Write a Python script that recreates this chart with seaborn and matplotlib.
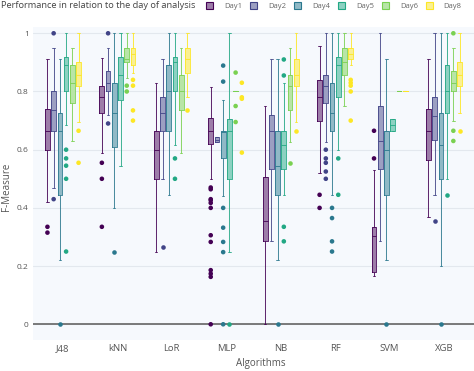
import numpy as np
import pandas as pd
import seaborn as sns
import matplotlib.pyplot as plt
from matplotlib.colors import to_rgba
from matplotlib.patches import Patch

# categories
algorithms = ["J48", "kNN", "LoR", "MLP", "NB", "RF", "SVM", "XGB"]
days = ["Day1", "Day2", "Day4", "Day5", "Day6", "Day8"]

# box summaries: [whisker low, q1, median, q3, whisker high]
day1_box = [[0.42, 0.60, 0.665, 0.74, 0.91], [0.59, 0.725, 0.78, 0.82, 0.915],
            [0.25, 0.50, 0.60, 0.665, 0.83], [0.50, 0.62, 0.665, 0.71, 0.815],
            [0.0, 0.285, 0.355, 0.505, 0.75], [0.52, 0.70, 0.78, 0.84, 0.955],
            [0.165, 0.18, 0.305, 0.335, 0.53], [0.37, 0.565, 0.665, 0.74, 0.91]]
day2_box = [[0.47, 0.665, 0.735, 0.80, 0.95], [0.72, 0.80, 0.83, 0.87, 0.95],
            [0.50, 0.665, 0.725, 0.78, 0.91], [0.625, 0.625, 0.635, 0.645, 0.645],
            [0.285, 0.535, 0.665, 0.72, 0.91], [0.625, 0.76, 0.82, 0.855, 1.0],
            [0.285, 0.535, 0.63, 0.75, 1.0], [0.445, 0.635, 0.715, 0.78, 1.0]]
day4_box = [[0.22, 0.445, 0.665, 0.725, 0.91], [0.40, 0.61, 0.725, 0.83, 1.0],
            [0.445, 0.665, 0.80, 0.89, 1.0], [0.44, 0.57, 0.66, 0.665, 0.77],
            [0.22, 0.445, 0.545, 0.665, 0.91], [0.445, 0.665, 0.725, 0.83, 1.0],
            [0.22, 0.445, 0.60, 0.665, 0.91], [0.20, 0.50, 0.615, 0.725, 1.0]]
day5_box = [[0.685, 0.80, 0.89, 0.92, 1.0], [0.545, 0.77, 0.855, 0.92, 1.0],
            [0.615, 0.80, 0.90, 0.92, 1.0], [0.25, 0.50, 0.665, 0.705, 1.0],
            [0.445, 0.535, 0.615, 0.665, 0.83], [0.60, 0.78, 0.89, 0.92, 1.0],
            [0.665, 0.665, 0.685, 0.705, 0.705], [0.50, 0.725, 0.80, 0.89, 1.0]]
day6_box = [[0.63, 0.76, 0.83, 0.89, 0.95], [0.845, 0.90, 0.91, 0.95, 1.0],
            [0.59, 0.735, 0.80, 0.855, 0.95], [0.80, 0.80, 0.80, 0.80, 0.80],
            [0.625, 0.735, 0.82, 0.855, 0.95], [0.75, 0.855, 0.90, 0.95, 1.0],
            [0.80, 0.80, 0.80, 0.80, 0.80], [0.70, 0.80, 0.83, 0.87, 0.95]]
day8_box = [[0.695, 0.82, 0.855, 0.90, 1.0], [0.865, 0.89, 0.93, 0.95, 1.0],
            [0.78, 0.865, 0.91, 0.95, 1.0], None,
            [0.695, 0.82, 0.855, 0.91, 1.0], [0.89, 0.91, 0.93, 0.95, 1.0],
            [0.80, 0.80, 0.80, 0.80, 0.80], [0.725, 0.82, 0.855, 0.90, 1.0]]

# outlier points per algorithm
day1_out = [[0.335, 0.315], [0.555, 0.50, 0.335], [],
            [0.47, 0.464, 0.43, 0.426, 0.417, 0.40, 0.306, 0.283, 0.186, 0.174, 0.163, 0.0],
            [], [0.445, 0.40], [0.665, 0.57], []]
day2_out = [[1.0, 0.43], [1.0, 0.69], [0.265], [], [],
            [0.60, 0.57, 0.555, 0.525, 0.50], [], [0.355]]
day4_out = [[0.0], [0.25], [], [0.889, 0.834, 0.40, 0.332, 0.283, 0.248, 0.0],
            [0.0], [0.40, 0.365, 0.285, 0.25], [0.0], [0.0]]
day5_out = [[0.60, 0.57, 0.545, 0.50, 0.25], [], [0.57, 0.50], [0.0],
            [0.91, 0.855, 0.335, 0.285], [0.57, 0.445], [], [0.445]]
day6_out = [[], [0.82, 0.80], [], [0.865, 0.75, 0.695], [0.555], [], [],
            [1.0, 0.665, 0.63]]
day8_out = [[0.665, 0.555], [0.84, 0.82, 0.735, 0.70], [0.735],
            [0.83, 0.78, 0.775, 0.59], [0.665], [0.84, 0.83, 0.82, 0.80, 0.70],
            [], [0.665]]

day_colors = {"Day1": "#440154", "Day2": "#414487", "Day4": "#2a788e",
              "Day5": "#22a884", "Day6": "#7ad151", "Day8": "#fde725"}

box_by_day = dict(zip(days, [day1_box, day2_box, day4_box, day5_box, day6_box, day8_box]))
out_by_day = dict(zip(days, [day1_out, day2_out, day4_out, day5_out, day6_out, day8_out]))

box_rows, out_rows = [], []
for day in days:
    for alg, stats, pts in zip(algorithms, box_by_day[day], out_by_day[day]):
        if stats is not None:
            box_rows += [(alg, day, v) for v in stats]
        out_rows += [(alg, day, v) for v in pts]
box_df = pd.DataFrame(box_rows, columns=["Algorithm", "Day", "F"])
out_df = pd.DataFrame(out_rows, columns=["Algorithm", "Day", "F"])

sns.set_style("white")
plt.rcParams["font.family"] = ["Open Sans", "DejaVu Sans"]

fig = plt.figure(figsize=(4.74, 3.71), dpi=100)
ax = fig.add_axes([33 / 474, 1 - 340 / 371, 1 - 33 / 474, 313 / 371])
ax.set_facecolor("#f6f9fd")

width = 0.686
common = dict(data=box_df, x="Algorithm", y="F", hue="Day", order=algorithms,
              hue_order=days, width=width, gap=0.24, whis=(0, 100),
              showfliers=False, saturation=1, legend=False, ax=ax)

# half-transparent fills (pre-mixed with the plot background), outlines on top
bg = np.array(to_rgba("#f6f9fd")[:3])
fill_colors = {d: tuple(0.5 * np.array(to_rgba(c)[:3]) + 0.5 * bg) for d, c in day_colors.items()}
sns.boxplot(**common, palette=fill_colors, fill=True, linewidth=0.01)
for p in ax.patches:
    p.set_edgecolor("none")
sns.boxplot(**common, palette=day_colors, fill=False, linewidth=0.6)

n_before = len(ax.collections)
sns.stripplot(data=out_df, x="Algorithm", y="F", hue="Day", order=algorithms,
              hue_order=days, palette=day_colors, dodge=True, jitter=False,
              size=3.3, linewidth=0, legend=False, ax=ax, zorder=4)
# squeeze strip dodge (0.8 wide) to match the box dodge width
for coll in ax.collections[n_before:]:
    off = coll.get_offsets()
    if len(off):
        centre = np.round(off[:, 0])
        off[:, 0] = centre + (off[:, 0] - centre) * width / 0.8
        coll.set_offsets(off)

ax.axhline(0, color="#707070", lw=1.3, zorder=1.5)
ax.set_xlim(-0.551, 7.551)
ax.set_ylim(-0.054, 1.0216)
ax.set_yticks([0, 0.2, 0.4, 0.6, 0.8, 1.0])
ax.set_yticklabels(["0", "0.2", "0.4", "0.6", "0.8", "1"])
ax.yaxis.grid(True, color="#e3e8ee", lw=0.8)
ax.set_axisbelow(True)
for s in ax.spines.values():
    s.set_visible(False)
ax.tick_params(axis="y", length=0, pad=3, labelsize=6, labelcolor="#555555")
ax.tick_params(axis="x", length=0, pad=3, labelsize=6.8, labelcolor="#555555")

ax.set_xlabel("Algorithms", fontsize=7, color="#555555")
ax.xaxis.set_label_coords(0.517, -0.058)
ax.set_ylabel("F-Measure", fontsize=7, color="#555555")
ax.yaxis.set_label_coords(-0.048, 0.49)

fig.text(0.002, 0.986, "Performance in relation to the day of analysis",
         fontsize=6.7, color="#444444", va="center", ha="left")
handles = [Patch(facecolor=fill_colors[d], edgecolor=c, lw=0.8) for d, c in day_colors.items()]
fig.legend(handles, days, loc="center left", bbox_to_anchor=(0.435, 0.984), ncol=6,
           frameon=False, fontsize=5.5, labelcolor="#666666", handlelength=0.9,
           handleheight=1.1, handletextpad=1.4, columnspacing=1.1, borderpad=0,
           borderaxespad=0)

fig.savefig("out.png", dpi=100)
